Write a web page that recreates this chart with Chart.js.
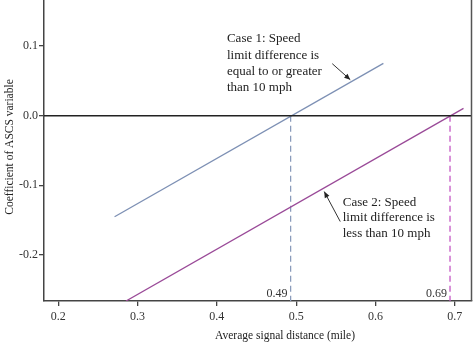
<!DOCTYPE html>
<html><head><meta charset="utf-8">
<script src="https://cdn.jsdelivr.net/npm/chart.js@4"></script>
<style>html,body{margin:0;padding:0;background:#fff}#wrap{width:474px;height:351px}</style>
</head><body><div id="wrap"><canvas id="c"></canvas></div>
<script>
// Data
const case1X = [0.271, 0.61];
const case1Y = [-0.145, 0.075];
const case2X = [0.2854, 0.711];
const case2Y = [-0.266, 0.0105];
const thresholdX = [0.493, 0.694];
const thresholdLabels = ['0.49', '0.69'];
const xTicks = [0.2, 0.3, 0.4, 0.5, 0.6, 0.7];
const yTicks = [-0.2, -0.1, 0.0, 0.1];
const xRange = [0.182, 0.7211];
const yRange = [-0.266, 0.166];

const toPts = (xs, ys) => xs.map((x, i) => ({x, y: ys[i]}));
const serif = '"Liberation Serif", "Times New Roman", serif';
const ink = '#333';

const overlay = {
  id: 'overlay',
  afterDatasetsDraw(chart) {
    const {ctx, chartArea: a, scales: {x, y}} = chart;
    ctx.save();
    // zero line
    ctx.strokeStyle = '#222'; ctx.lineWidth = 1.5;
    const y0 = y.getPixelForValue(0);
    ctx.beginPath(); ctx.moveTo(a.left, y0); ctx.lineTo(a.right, y0); ctx.stroke();
    // right border
    ctx.strokeStyle = '#555';
    ctx.beginPath(); ctx.moveTo(a.right, a.top); ctx.lineTo(a.right, a.bottom); ctx.stroke();
    // threshold labels
    ctx.fillStyle = ink; ctx.font = '12px ' + serif;
    ctx.textAlign = 'right'; ctx.textBaseline = 'middle';
    thresholdX.forEach((v, i) => ctx.fillText(thresholdLabels[i], x.getPixelForValue(v) - 3, a.bottom - 7));
    // annotations
    ctx.font = '13px ' + serif; ctx.textAlign = 'left'; ctx.fillStyle = '#222';
    const c1 = ['Case 1: Speed', 'limit difference is', 'equal to or greater', 'than 10 mph'];
    c1.forEach((t, i) => ctx.fillText(t, x.getPixelForValue(0.4127), y.getPixelForValue(0.1103) + i * 16.4));
    const c2 = ['Case 2: Speed', 'limit difference is', 'less than 10 mph'];
    c2.forEach((t, i) => ctx.fillText(t, x.getPixelForValue(0.5587), y.getPixelForValue(-0.1244) + i * 15.5));
    const arrow = (x1, y1, x2, y2) => {
      const px1 = x.getPixelForValue(x1), py1 = y.getPixelForValue(y1);
      const px2 = x.getPixelForValue(x2), py2 = y.getPixelForValue(y2);
      ctx.strokeStyle = '#333'; ctx.fillStyle = '#222'; ctx.lineWidth = 1;
      ctx.beginPath(); ctx.moveTo(px1, py1); ctx.lineTo(px2, py2); ctx.stroke();
      const ang = Math.atan2(py2 - py1, px2 - px1), L = 6, W = 2.6;
      ctx.beginPath();
      ctx.moveTo(px2, py2);
      ctx.lineTo(px2 - L * Math.cos(ang) + W * Math.sin(ang), py2 - L * Math.sin(ang) - W * Math.cos(ang));
      ctx.lineTo(px2 - L * Math.cos(ang) - W * Math.sin(ang), py2 - L * Math.sin(ang) + W * Math.cos(ang));
      ctx.closePath(); ctx.fill();
    };
    arrow(0.5455, 0.0746, 0.5682, 0.0516);
    arrow(0.5556, -0.152, 0.5354, -0.109);
    // axis titles
    ctx.fillStyle = '#222'; ctx.font = '11.5px ' + serif;
    ctx.textAlign = 'center'; ctx.textBaseline = 'middle';
    ctx.fillText('Average signal distance (mile)', 285, 336);
    ctx.translate(10, 147); ctx.rotate(-Math.PI / 2);
    ctx.fillText('Coefficient of ASCS variable', 0, 0);
    ctx.restore();
  }
};

const fmt = v => (Math.abs(v) < 1e-9 ? '0.0' : v.toFixed(1));

new Chart(document.getElementById('c'), {
  type: 'scatter',
  data: {
    datasets: [
      {data: toPts(case1X, case1Y), showLine: true, borderColor: '#7d90b4', borderWidth: 1.3, pointRadius: 0},
      {data: toPts(case2X, case2Y), showLine: true, borderColor: '#9a4a98', borderWidth: 1.3, pointRadius: 0},
      {data: [{x: thresholdX[0], y: 0}, {x: thresholdX[0], y: yRange[0]}], showLine: true, borderColor: '#8a9bbb', borderWidth: 1.3, borderDash: [6, 4], pointRadius: 0},
      {data: [{x: thresholdX[1], y: 0}, {x: thresholdX[1], y: yRange[0]}], showLine: true, borderColor: '#c455c4', borderWidth: 1.3, borderDash: [6, 4], pointRadius: 0}
    ]
  },
  options: {
    responsive: true, maintainAspectRatio: false, animation: false,
    layout: {padding: {left: 0, top: 0, right: 2.5, bottom: 0}},
    plugins: {legend: {display: false}, tooltip: {enabled: false}},
    scales: {
      x: {
        type: 'linear', min: xRange[0], max: xRange[1],
        afterBuildTicks: s => { s.ticks = xTicks.map(v => ({value: v})); },
        afterFit: s => { s.height = 50; s.paddingLeft = 0; s.paddingRight = 0; },
        grid: {drawOnChartArea: false, drawTicks: true, tickLength: 5, color: '#444', lineWidth: 1.3},
        border: {display: true, color: '#444', width: 1.5},
        ticks: {color: ink, font: {family: serif, size: 12}, padding: 4, callback: fmt, maxRotation: 0}
      },
      y: {
        type: 'linear', min: yRange[0], max: yRange[1],
        afterBuildTicks: s => { s.ticks = yTicks.map(v => ({value: v})); },
        afterFit: s => { s.width = 44; s.paddingTop = 0; s.paddingBottom = 0; },
        grid: {drawOnChartArea: false, drawTicks: true, tickLength: 5, color: '#444', lineWidth: 1.3},
        border: {display: true, color: '#444', width: 1.5},
        ticks: {color: ink, font: {family: serif, size: 12}, padding: 1, callback: fmt}
      }
    }
  },
  plugins: [overlay]
});
</script></body></html>
